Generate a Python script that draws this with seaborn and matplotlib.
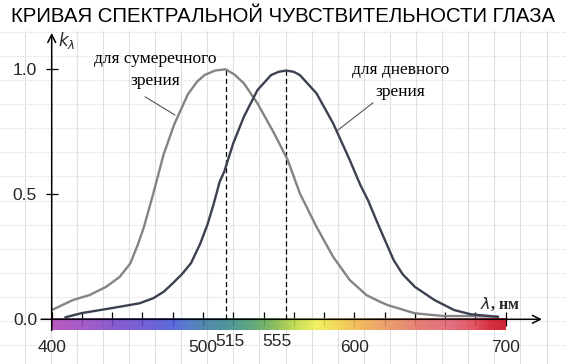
import matplotlib
matplotlib.use("Agg")
import matplotlib.pyplot as plt
import matplotlib.transforms as mtransforms
from matplotlib.colors import LinearSegmentedColormap
import numpy as np
import pandas as pd
import seaborn as sns


TITLE = "КРИВАЯ СПЕКТРАЛЬНОЙ ЧУВСТВИТЕЛЬНОСТИ ГЛАЗА"

# scotopic (twilight) curve
SCOTOPIC_NM = [400, 414, 425, 436, 445, 452, 457, 461, 467, 474, 481, 490, 496, 501, 508,
               515, 521, 527, 536, 547, 556, 564, 575, 586, 597, 608, 617, 622, 640, 659,
               677, 695]
SCOTOPIC_K = [0.037, 0.077, 0.097, 0.13, 0.17, 0.224, 0.30, 0.37, 0.50, 0.66, 0.78, 0.90,
              0.95, 0.977, 0.995, 1.0, 0.978, 0.944, 0.864, 0.744, 0.637, 0.504, 0.37,
              0.25, 0.157, 0.097, 0.07, 0.057, 0.024, 0.013, 0.013, 0.01]

# photopic (daylight) curve
PHOTOPIC_NM = [409, 420, 439, 458, 467, 474, 480, 486, 492, 498, 503, 507, 511, 514, 520,
               527, 536, 545, 550, 555, 560, 564, 575, 586, 597, 604, 609, 615, 620, 626,
               632, 640, 653, 666, 677, 695]
PHOTOPIC_K = [0.008, 0.025, 0.044, 0.064, 0.084, 0.11, 0.144, 0.18, 0.224, 0.30, 0.38, 0.46,
              0.55, 0.59, 0.704, 0.81, 0.917, 0.977, 0.99, 0.995, 0.99, 0.977, 0.904, 0.784,
              0.637, 0.537, 0.477, 0.39, 0.32, 0.237, 0.18, 0.13, 0.077, 0.037, 0.02, 0.01]

PEAK_NM = [515, 555]
PEAK_K = [1.0, 0.995]

X_TICKS = [400, 500, 515, 555, 600, 700]
X_TICK_LABELS = ["400", "500", "515", "555", "600", "700"]
X_MINOR = list(range(400, 701, 20))
Y_TICKS = [0.0, 0.5, 1.0]
Y_TICK_LABELS = ["0.0", "0.5", "1.0"]

SPECTRUM_NM = [400, 420, 440, 460, 480, 490, 500, 515, 530, 545, 560, 575, 590, 605,
               625, 645, 665, 680, 690, 700]
SPECTRUM_COLORS = ["#b247b8", "#9a4ac2", "#7c4ac8", "#6450d2", "#4a5ad8", "#4470c4",
                   "#3f7ca4", "#3c8a92", "#4c9c74", "#74b250", "#bcd844", "#f2f052",
                   "#f2d04a", "#f0b050", "#e89060", "#e27068", "#e05e70", "#e04252",
                   "#d21a2a", "#c81020"]


def main() -> None:
    sns.set_theme(style="white")
    plt.rcParams["font.family"] = ["Liberation Sans", "DejaVu Sans"]

    W, H = 566, 364
    fig = plt.figure(figsize=(W / 100, H / 100), dpi=100)

    # graph-paper background
    bg = fig.add_axes([0, 0, 1, 1], zorder=-1)
    bg.set_xlim(0, W)
    bg.set_ylim(H, 0)
    bg.axis("off")
    for gx in np.arange(24.5, W, 26.1):
        bg.plot([gx, gx], [31, H], color="#e0e0e0", lw=0.8)
    for gy in np.arange(31.5, H, 24.15):
        bg.plot([0, W], [gy, gy], color="#d6d6d6", lw=0.8, ls=(0, (1, 1.5)))

    px_per_nm = 1.513
    y0_px, unit_px = 319.3, 250.0
    left_px, right_px, top_px, bottom_px = 51.7, 545, 33, 335
    xlim = (400, 400 + (right_px - left_px) / px_per_nm)
    ylim = ((y0_px - bottom_px) / unit_px, (y0_px - top_px) / unit_px)
    ax = fig.add_axes([left_px / W, 1 - bottom_px / H,
                       (right_px - left_px) / W, (bottom_px - top_px) / H])
    ax.set_facecolor("none")

    curves = pd.concat([
        pd.DataFrame({"nm": SCOTOPIC_NM, "k": SCOTOPIC_K, "curve": "scotopic"}),
        pd.DataFrame({"nm": PHOTOPIC_NM, "k": PHOTOPIC_K, "curve": "photopic"}),
    ])
    sns.lineplot(data=curves, x="nm", y="k", hue="curve", sort=False,
                 palette={"scotopic": "#848484", "photopic": "#3b4150"},
                 linewidth=1.7, legend=False, ax=ax, zorder=3)
    ax.set_xlabel("")
    ax.set_ylabel("")

    ax.vlines(PEAK_NM, 0, PEAK_K, colors="black", linestyles=(0, (4, 2.5)), lw=0.9, zorder=2)

    # spectrum strip under the axis
    cmap = LinearSegmentedColormap.from_list(
        "spectrum",
        [((nm - 400) / 300, c) for nm, c in zip(SPECTRUM_NM, SPECTRUM_COLORS)])
    strip_h = (330.5 - y0_px) / unit_px
    ax.imshow(np.linspace(0, 1, 300)[None, :], cmap=cmap, aspect="auto",
              extent=(400, 700, -strip_h, 0), zorder=1, alpha=0.9)
    ax.set_xlim(*xlim)
    ax.set_ylim(*ylim)

    for side in ["top", "right", "left", "bottom"]:
        ax.spines[side].set_visible(False)
    ax.annotate("", xy=(xlim[1] - 2, 0), xytext=(393, 0),
                arrowprops=dict(arrowstyle="->", color="black", lw=1.1,
                                shrinkA=0, shrinkB=0, mutation_scale=14), zorder=4)
    ax.annotate("", xy=(400, ylim[1]), xytext=(400, -strip_h),
                arrowprops=dict(arrowstyle="->", color="black", lw=1.1,
                                shrinkA=0, shrinkB=0, mutation_scale=14), zorder=4)

    ax.set_xticks(X_TICKS, X_TICK_LABELS)
    ax.set_xticks(X_MINOR, minor=True)
    ax.set_yticks(Y_TICKS, Y_TICK_LABELS)
    ax.tick_params(axis="x", which="both", direction="inout", length=10, width=0.9,
                   color="black", bottom=True, pad=10, labelsize=12.5)
    ax.tick_params(axis="y", direction="inout", length=9, width=0.9, color="black",
                   left=True, pad=6, labelsize=12.5)
    ax.spines["bottom"].set_position(("data", 0))
    ax.spines["left"].set_position(("data", 400))
    ticks = ax.xaxis.get_major_ticks()
    shifts = {515: (4, 6), 555: (-9, 6)}
    for value, tick in zip(X_TICKS, ticks):
        if value in shifts:
            tick.tick1line.set_visible(False)
            dx, dy = shifts[value]
            tick.label1.set_transform(tick.label1.get_transform() +
                                      mtransforms.ScaledTranslation(dx / 100, dy / 100,
                                                                    fig.dpi_scale_trans))
    ax.yaxis.get_major_ticks()[0].tick1line.set_visible(False)

    ax.text(410, 1.117, r"$k_\lambda$", fontsize=12, ha="center", va="center",
            family="Liberation Serif")
    ax.text(696, 0.061, r"$\lambda$, нм", fontsize=11.5, ha="center", va="center",
            family="Liberation Serif", fontweight="bold")

    serif = dict(family="Liberation Serif", fontsize=12.5, ha="center", va="center",
                 color="black", linespacing=1.45)
    ax.text(468.5, 0.997, "для сумеречного\nзрения", **serif)
    ax.text(630.5, 0.953, "для дневного\nзрения", **serif)
    ax.plot([461.7, 481.5], [0.890, 0.817], color="#555555", lw=0.8)
    ax.plot([612.4, 589.2], [0.866, 0.757], color="#555555", lw=0.8)

    fig.text(0.5, 1 - 17 / H, TITLE, ha="center", va="center", fontsize=14.7,
             color="black")

    fig.savefig("out.png", dpi=100)
    plt.close(fig)


if __name__ == "__main__":
    main()
